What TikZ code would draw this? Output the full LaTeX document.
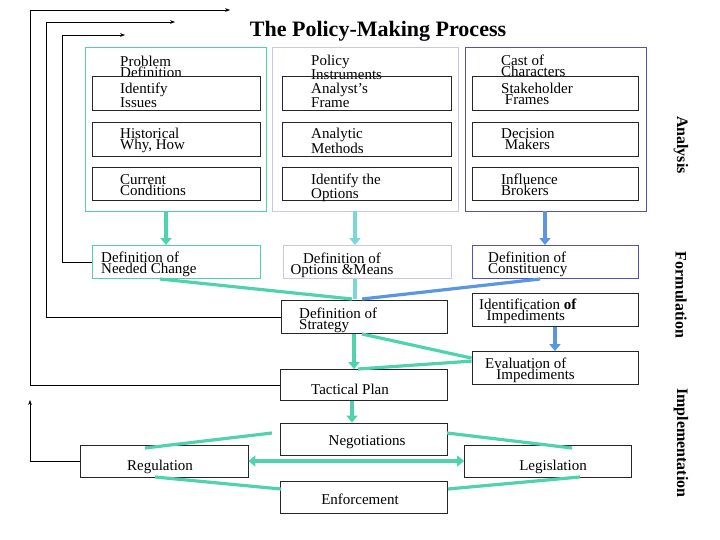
\documentclass[tikz,border=0pt]{standalone}
\usepackage{fontspec}
\setmainfont{Liberation Serif}
\usetikzlibrary{arrows.meta}
\definecolor{tealc}{RGB}{80,210,175}
\definecolor{lavc}{RGB}{200,200,238}
\definecolor{bluec}{RGB}{80,80,200}
\definecolor{lteal}{RGB}{120,215,215}
\definecolor{lblue}{RGB}{90,150,225}
\begin{document}
\begin{tikzpicture}[x=1pt,y=-1pt,
  txt/.style={font=\fontsize{15}{11}\selectfont,align=left,anchor=north west,inner sep=0pt},
  ctxt/.style={font=\fontsize{15}{11}\selectfont,align=center,inner sep=0pt},
  box/.style={draw=black!85,line width=0.8pt},
  fat/.style={line width=3.2pt,-{Triangle[length=7pt,width=11pt]}},
  bar/.style={line width=3.2pt},
  side/.style={font=\fontsize{16}{16}\selectfont\bfseries,rotate=-90},
  fb/.style={line width=0.6pt,-{Stealth[length=5pt]}}]
\useasboundingbox (0,0) rectangle (720,540);
\node[font=\fontsize{22}{22}\selectfont\bfseries] (title) at (378,31) {The Policy-Making Process};
% column frames
\draw[tealc,line width=0.8pt] (85,47) rectangle (266,211);
\draw[lavc,line width=0.8pt] (272,47) rectangle (458,211);
\draw[bluec,line width=0.8pt] (465,47) rectangle (646,211);
\coordinate (c1b) at (166,211); \coordinate (c2b) at (355,211); \coordinate (c3b) at (545,211);
% headers
\node[txt] (h1) at (120,56) {Problem\\Definition};
\node[txt] (h2) at (311,55) {Policy\\Instruments};
\node[txt] (h3) at (501,55) {Cast of\\Characters};
% inner boxes
\foreach \n/\x/\w in {a/92/168,b/282/169,c/472/166}{
  \draw[box] (\x,76) rectangle ++(\w,34);
  \draw[box] (\x,122) rectangle ++(\w,34);
  \draw[box] (\x,167) rectangle ++(\w,33);}
\node[txt] (i11) at (120,83) {Identify\\Issues};
\node[txt] (i12) at (120,128) {Historical\\Why, How};
\node[txt] (i13) at (120,174) {Current\\Conditions};
\node[txt] (i21) at (311,83) {Analyst's\\Frame};
\node[txt] (i22) at (311,128) {Analytic\\Methods};
\node[txt] (i23) at (311,174) {Identify the\\Options};
\node[txt] (i31) at (501,83) {Stakeholder\\\ Frames};
\node[txt] (i32) at (501,128) {Decision\\\ Makers};
\node[txt] (i33) at (501,174) {Influence\\Brokers};
% definition boxes
\node[draw=tealc,line width=0.8pt,minimum width=168pt,minimum height=33pt,inner sep=0pt] (need) at (176,262) {};
\node[txt] at (101,252) {Definition of\\Needed Change};
\node[draw=lavc,line width=0.8pt,minimum width=168pt,minimum height=33pt,inner sep=0pt] (opt) at (367,262) {};
\node[ctxt] at (342,265) {Definition of\\Options \&Means};
\node[draw=bluec,line width=0.8pt,minimum width=166pt,minimum height=33pt,inner sep=0pt] (cons) at (555,262) {};
\node[txt] at (488,252) {Definition of\\Constituency};
\draw[fat,tealc] (c1b) -- (166,245);
\draw[fat,lteal] (c2b) -- (355,245);
\draw[fat,lblue] (c3b) -- (545,245);
% strategy etc.
\node[box,minimum width=166pt,minimum height=33pt,inner sep=0pt] (strat) at (364,317) {};
\node[txt] at (299,308) {Definition of\\Strategy};
\node[box,minimum width=166pt,minimum height=33pt,inner sep=0pt] (ident) at (555,310) {};
\node[txt] at (479,299) {Identification {\bfseries of}\\\ \ Impediments};
\node[box,minimum width=166pt,minimum height=33pt,inner sep=0pt] (eval) at (555,368) {};
\node[txt] at (485,358) {Evaluation of\\\ \ \ Impediments};
\node[box,minimum width=167pt,minimum height=31pt,inner sep=0pt] (tact) at (364,385) {};
\node[ctxt] at (350,389) {Tactical Plan};
\node[box,minimum width=167pt,minimum height=32pt,inner sep=0pt] (neg) at (364,439) {};
\node[ctxt] at (367,442) {Negotiations};
\node[box,minimum width=168pt,minimum height=32pt,inner sep=0pt] (reg) at (164,461) {};
\node[ctxt] at (160,467) {Regulation};
\node[box,minimum width=167pt,minimum height=32pt,inner sep=0pt] (leg) at (548,461) {};
\node[ctxt] at (553,467) {Legislation};
\node[box,minimum width=167pt,minimum height=32pt,inner sep=0pt] (enf) at (364,497) {};
\node[ctxt] at (360,499) {Enforcement};
% converging bars
\draw[bar,tealc] (160,279) -- (352,299);
\draw[bar,lteal] (355,279) -- (355,299);
\draw[bar,lblue] (540,279) -- (362,299);
\draw[fat,tealc] (strat.south -| 354,0) -- (tact.north -| 354,0);
\draw[bar,tealc] (eval.north west) ++(0,7) -- (362,334);
\draw[bar,tealc] (eval.north west) ++(0,10) -- (358,369);
\draw[fat,lblue] (ident.south) -- (eval.north);
\draw[fat,tealc] (tact.south -| 352,0) -- (neg.north -| 352,0);
\draw[bar,tealc] (272,433) -- (145,448);
\draw[bar,tealc] (447,433) -- (572,448);
\draw[line width=3.2pt,tealc,{Triangle[length=7pt,width=11pt]}-{Triangle[length=7pt,width=11pt]}] (reg.east) -- (leg.west);
\draw[bar,tealc] (155,477) -- (281,489);
\draw[bar,tealc] (580,477) -- (448,489);
% feedback lines
\coordinate (f1) at (230,10); \coordinate (f2) at (175,22); \coordinate (f3) at (125,35);
\coordinate (f4) at (30,400);
\draw[fb] (tact.west) -| (30,10) -- (f1);
\draw[fb] (strat.west) -| (46,22) -- (f2);
\draw[fb] (need.west) -| (62,35) -- (f3);
\draw[fb] (reg.west) -| (f4);
% side labels
\node[side] (an) at (681,145) {Analysis};
\node[side] (fo) at (681,295) {Formulation};
\node[side] (im) at (681,443) {Implementation};
\end{tikzpicture}
\end{document}
